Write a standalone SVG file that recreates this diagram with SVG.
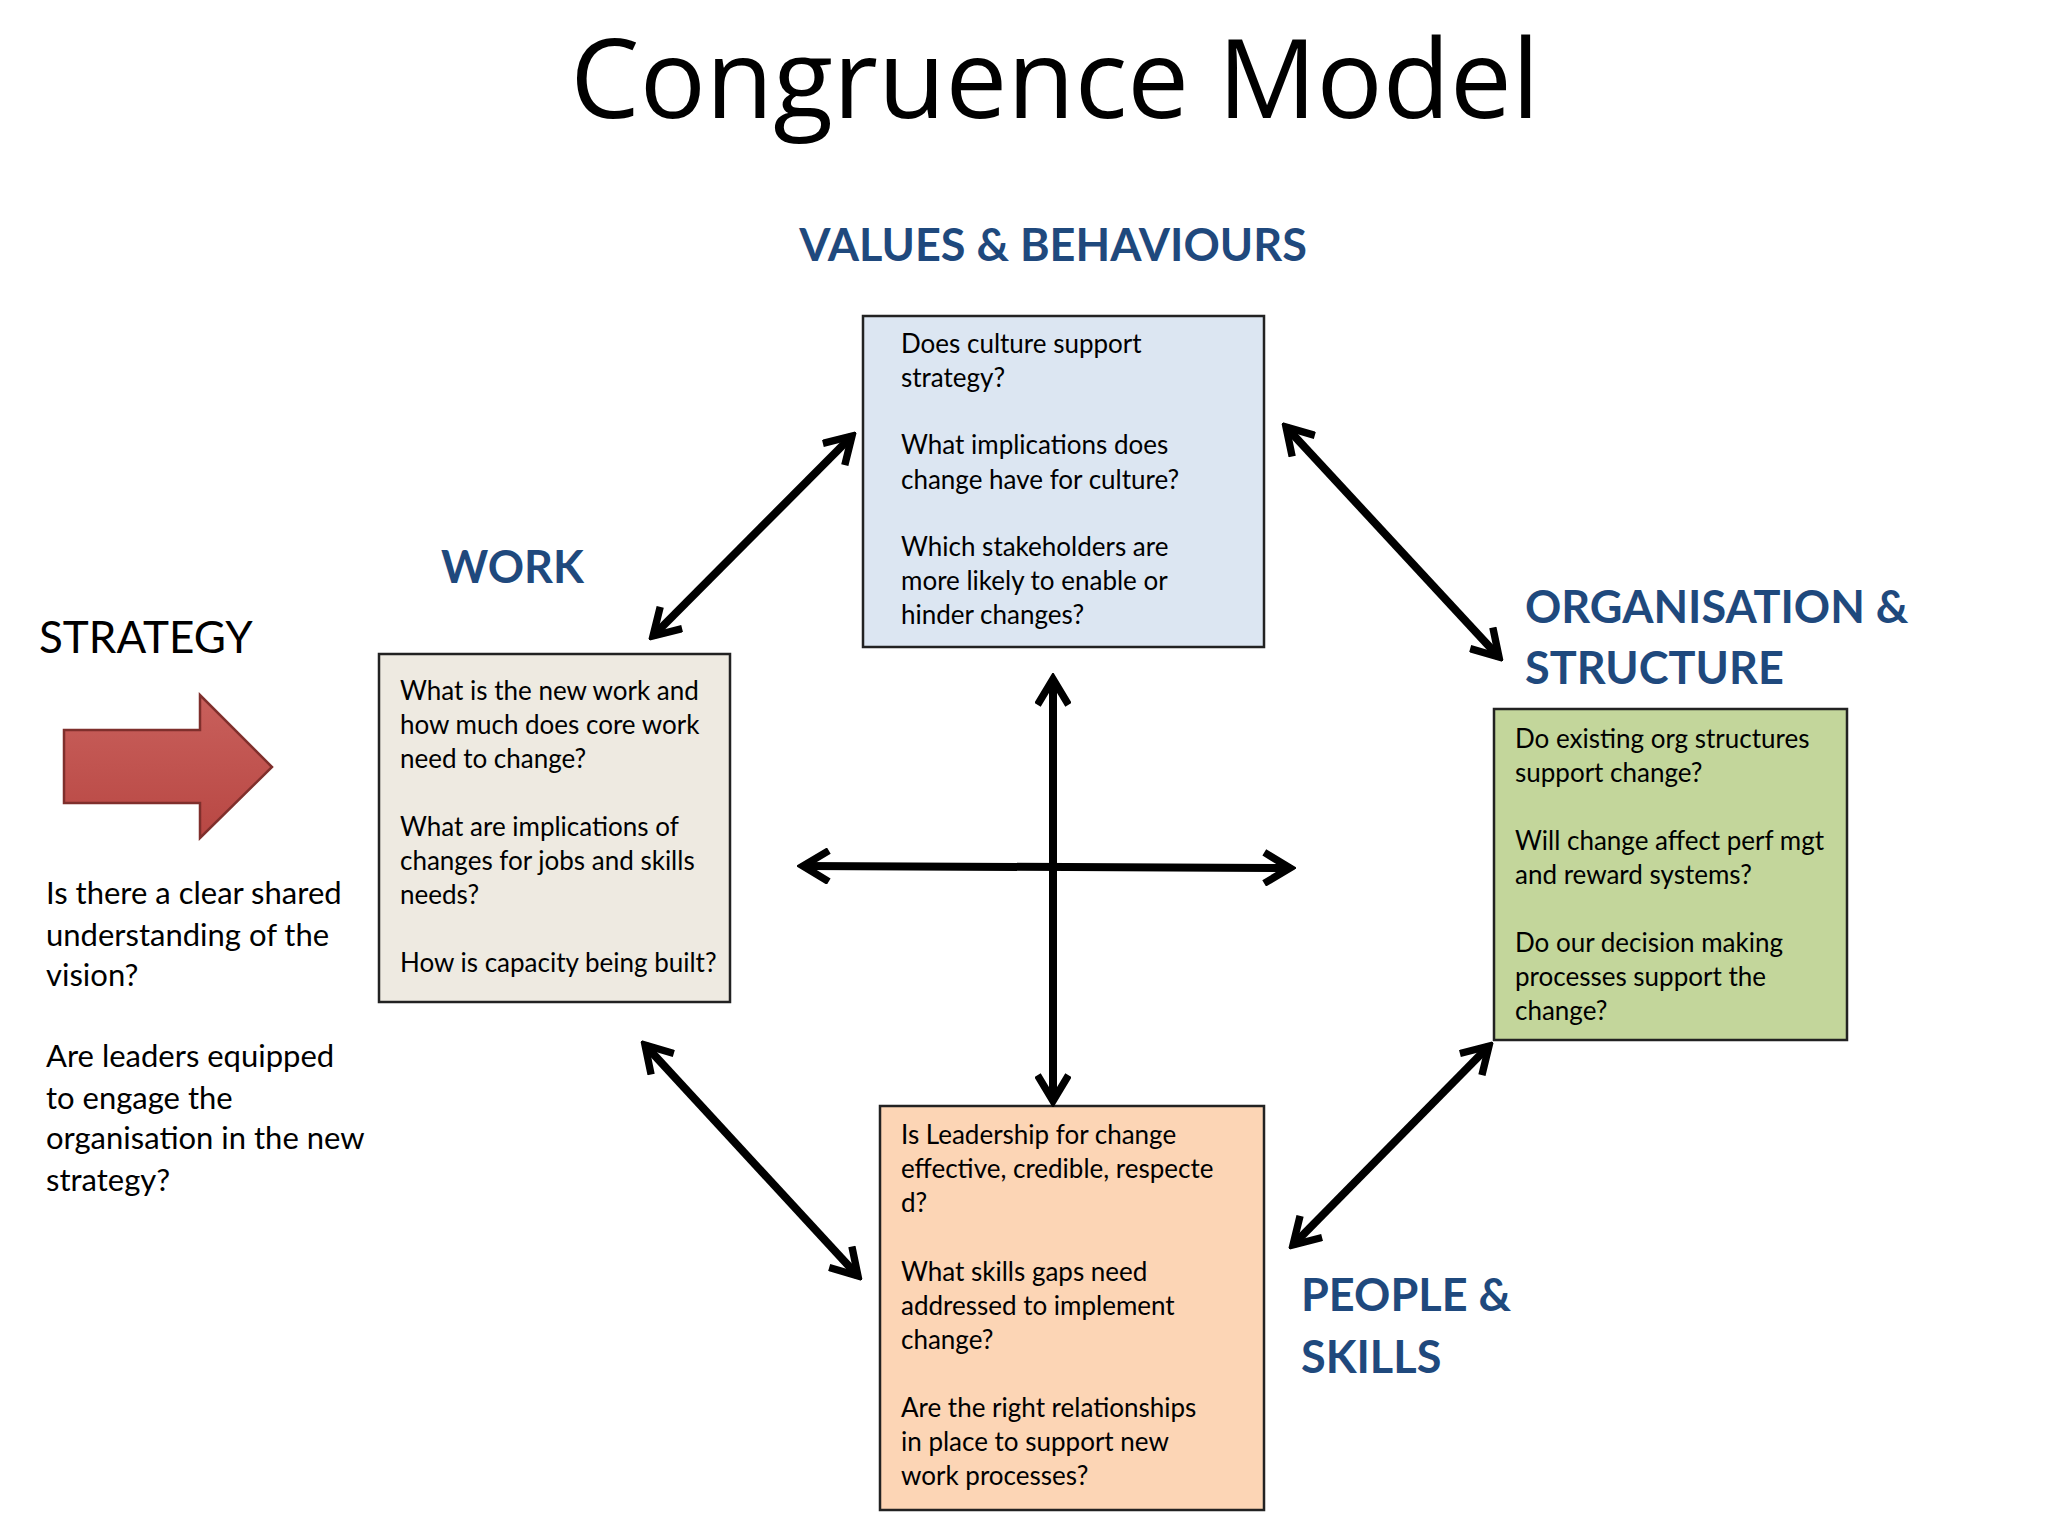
<svg xmlns="http://www.w3.org/2000/svg" width="2048" height="1536" viewBox="0 0 2048 1536">
<defs>
<marker id="ah" viewBox="0 0 10 10" refX="8.5" refY="5" markerWidth="4.6" markerHeight="4.6" orient="auto-start-reverse" markerUnits="strokeWidth">
<path d="M1.5,0.8 L8.5,5 L1.5,9.2" fill="none" stroke="#000" stroke-width="2" stroke-linejoin="miter"/>
</marker>
<linearGradient id="red" x1="0" y1="0" x2="0" y2="1">
<stop offset="0" stop-color="#C9605C"/><stop offset="1" stop-color="#B84743"/>
</linearGradient>
</defs>
<style>
text{font-family:Lato,"Open Sans","Liberation Sans",sans-serif;}
.t{font-size:26px;fill:#000;}
.h{font-size:45px;font-weight:bold;fill:#1F497D;}
.s{font-size:31px;fill:#000;}
.box{stroke:#222;stroke-width:2.5;}
.c{stroke:#000;stroke-width:8;fill:none;marker-start:url(#ah);marker-end:url(#ah);}
</style>
<rect width="2048" height="1536" fill="#fff"/>
<text x="1055" y="118" text-anchor="middle" style="font-size:110px;font-family:'Open Sans',Lato,sans-serif">Congruence Model</text>

<g id="strategy">
<text x="39" y="653" style="font-size:44px">STRATEGY</text>
<polygon points="64,730 200,730 200,695 272,767 200,838 200,803 64,803" fill="url(#red)" stroke="#7F2F2C" stroke-width="2.5"/>
<text class="s"><tspan x="46" y="904">Is there a clear shared</tspan><tspan x="46" y="946">understanding of the</tspan><tspan x="46" y="986">vision?</tspan><tspan x="46" y="1067">Are leaders equipped</tspan><tspan x="46" y="1109">to engage the</tspan><tspan x="46" y="1149">organisation in the new</tspan><tspan x="46" y="1191">strategy?</tspan></text>
</g>

<g id="values">
<text class="h" x="1053" y="261" text-anchor="middle">VALUES &amp; BEHAVIOURS</text>
<rect class="box" x="863" y="316" width="401" height="331" fill="#DCE6F2"/>
<text class="t"><tspan x="901" y="353">Does culture support</tspan><tspan x="901" y="387">strategy?</tspan><tspan x="901" y="454">What implications does</tspan><tspan x="901" y="489">change have for culture?</tspan><tspan x="901" y="556">Which stakeholders are</tspan><tspan x="901" y="590">more likely to enable or</tspan><tspan x="901" y="624">hinder changes?</tspan></text>
</g>

<g id="work">
<text class="h" x="441" y="583">WORK</text>
<rect class="box" x="379" y="654" width="351" height="348" fill="#EEEAE1"/>
<text class="t"><tspan x="400" y="700">What is the new work and</tspan><tspan x="400" y="734">how much does core work</tspan><tspan x="400" y="768">need to change?</tspan><tspan x="400" y="836">What are implications of</tspan><tspan x="400" y="870">changes for jobs and skills</tspan><tspan x="400" y="904">needs?</tspan><tspan x="400" y="972">How is capacity being built?</tspan></text>
</g>

<g id="organisation">
<text class="h"><tspan x="1525" y="623">ORGANISATION &amp;</tspan><tspan x="1525" y="684">STRUCTURE</tspan></text>
<rect class="box" x="1494" y="709" width="353" height="331" fill="#C3D69B"/>
<text class="t"><tspan x="1515" y="748">Do existing org structures</tspan><tspan x="1515" y="782">support change?</tspan><tspan x="1515" y="850">Will change affect perf mgt</tspan><tspan x="1515" y="884">and reward systems?</tspan><tspan x="1515" y="952">Do our decision making</tspan><tspan x="1515" y="986">processes support the</tspan><tspan x="1515" y="1020">change?</tspan></text>
</g>

<g id="people">
<text class="h"><tspan x="1301" y="1311">PEOPLE &amp;</tspan><tspan x="1301" y="1373">SKILLS</tspan></text>
<rect class="box" x="880" y="1106" width="384" height="404" fill="#FCD5B5"/>
<text class="t"><tspan x="901" y="1144">Is Leadership for change</tspan><tspan x="901" y="1178">effective, credible, respecte</tspan><tspan x="901" y="1212">d?</tspan><tspan x="901" y="1281">What skills gaps need</tspan><tspan x="901" y="1315">addressed to implement</tspan><tspan x="901" y="1349">change?</tspan><tspan x="901" y="1417">Are the right relationships</tspan><tspan x="901" y="1451">in place to support new</tspan><tspan x="901" y="1485">work processes?</tspan></text>
</g>

<g id="connectors">
<line class="c" x1="653" y1="636" x2="852" y2="436"/>
<line class="c" x1="1286" y1="427" x2="1499" y2="657"/>
<line class="c" x1="645" y1="1045" x2="858" y2="1276"/>
<line class="c" x1="1293" y1="1245" x2="1489" y2="1046"/>
<line class="c" x1="1053" y1="679" x2="1053" y2="1101"/>
<line class="c" x1="803" y1="866" x2="1290" y2="868"/>
</g>
</svg>
